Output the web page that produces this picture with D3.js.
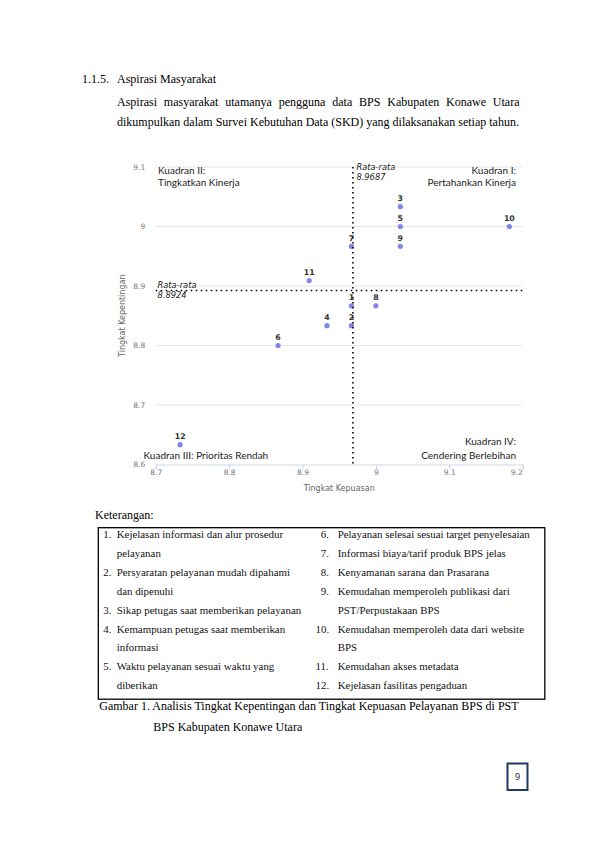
<!DOCTYPE html>
<html><head><meta charset="utf-8">
<script src="https://cdn.jsdelivr.net/npm/d3@7"></script>
<style>
html,body{margin:0;padding:0;background:#fff;}
svg{display:block;}
</style></head>
<body>
<script>
// ---- DATA ----
const ids = ["1","2","3","4","5","6","7","8","9","10","11","12"];
const kepuasan    = [8.9667, 8.9667, 9.0333, 8.9333, 9.0333, 8.8667, 8.9667, 9.0000, 9.0333, 9.1818, 8.9091, 8.7333];
const kepentingan = [8.8667, 8.8333, 9.0333, 8.8333, 9.0000, 8.8000, 8.9667, 8.8667, 8.9667, 9.0000, 8.9091, 8.6333];
const xTicks = [8.7, 8.8, 8.9, 9, 9.1, 9.2];
const yTicks = [8.6, 8.7, 8.8, 8.9, 9, 9.1];
const meanX = 8.9687;
const meanY = 8.8924;
const keteranganLeft = [
  ["1.", "Kejelasan informasi dan alur prosedur"], ["", "pelayanan"],
  ["2.", "Persyaratan pelayanan mudah dipahami"], ["", "dan dipenuhi"],
  ["3.", "Sikap petugas saat memberikan pelayanan"],
  ["4.", "Kemampuan petugas saat memberikan"], ["", "informasi"],
  ["5.", "Waktu pelayanan sesuai waktu yang"], ["", "diberikan"]
];
const keteranganRight = [
  ["6.", "Pelayanan selesai sesuai target penyelesaian"],
  ["7.", "Informasi biaya/tarif produk BPS jelas"],
  ["8.", "Kenyamanan sarana dan Prasarana"],
  ["9.", "Kemudahan memperoleh publikasi dari"], ["", "PST/Perpustakaan BPS"],
  ["10.", "Kemudahan memperoleh data dari website"], ["", "BPS"],
  ["11.", "Kemudahan akses metadata"],
  ["12.", "Kejelasan fasilitas pengaduan"]
];

const W = 595, H = 842;
const svg = d3.select("body").append("svg").attr("width", W).attr("height", H);
const serif = "'Liberation Serif','Times New Roman',serif";
const sans = "'DejaVu Sans',Verdana,sans-serif";
const lato = "Lato,'Open Sans',sans-serif";

// ---- Heading & body text ----
svg.append("text").attr("x", 82).attr("y", 83).attr("font-family", serif).attr("font-size", 12).text("1.1.5.");
svg.append("text").attr("x", 117).attr("y", 83).attr("font-family", serif).attr("font-size", 12).text("Aspirasi Masyarakat");

function justifyLine(str, x0, x1, y) {
  const words = str.split(" ");
  const g = svg.append("g").attr("font-family", serif).attr("font-size", 12);
  const nodes = words.map(w => g.append("text").attr("y", y).text(w));
  const widths = nodes.map(n => n.node().getComputedTextLength());
  const total = d3.sum(widths);
  const gap = (x1 - x0 - total) / (words.length - 1);
  let x = x0;
  nodes.forEach((n, i) => { n.attr("x", x); x += widths[i] + gap; });
}
justifyLine("Aspirasi masyarakat utamanya pengguna data BPS Kabupaten Konawe Utara", 117, 519.5, 105.5);
svg.append("text").attr("x", 117).attr("y", 125.5).attr("font-family", serif).attr("font-size", 12)
  .text("dikumpulkan dalam Survei Kebutuhan Data (SKD) yang dilaksanakan setiap tahun.");

// ---- Chart ----
const x = d3.scaleLinear().domain([8.7, 9.2]).range([155.7, 522.7]);
const y = d3.scaleLinear().domain([8.6, 9.1]).range([464.5, 167]);
const chart = svg.append("g");

// grid
chart.append("g").selectAll("line").data(yTicks.filter(t => t !== 8.6)).join("line")
  .attr("x1", x.range()[0]).attr("x2", x.range()[1])
  .attr("y1", d => y(d)).attr("y2", d => y(d))
  .attr("stroke", "#e6e6e6").attr("stroke-width", 1);

// x axis
const xAxis = chart.append("g").attr("transform", `translate(0,${y(8.6)})`)
  .call(d3.axisBottom(x).tickValues(xTicks).tickSize(5).tickFormat(d3.format("")));
xAxis.select(".domain").attr("stroke", "#ccd6eb");
xAxis.selectAll(".tick line").attr("stroke", "#ccd6eb");
xAxis.selectAll(".tick text").attr("fill", "#777").attr("font-family", sans).attr("font-size", 7.5).attr("dy", "0.3em")
  .attr("text-anchor", d => d === 9.2 ? "end" : "middle").attr("dx", d => d === 9.2 ? -0.5 : 0);

// y axis labels
const yAxis = chart.append("g").attr("transform", `translate(${x.range()[0]},0)`)
  .call(d3.axisLeft(y).tickValues(yTicks).tickSize(0).tickPadding(10.5).tickFormat(d3.format("")));
yAxis.select(".domain").remove();
yAxis.selectAll(".tick text").attr("fill", "#777").attr("font-family", sans).attr("font-size", 7.5);

// axis titles
chart.append("text").attr("x", (x.range()[0] + x.range()[1]) / 2).attr("y", 491).attr("text-anchor", "middle")
  .attr("font-family", sans).attr("font-size", 8).attr("fill", "#666").text("Tingkat Kepuasan");
chart.append("text").attr("transform", `translate(125,${(y.range()[0] + y.range()[1]) / 2}) rotate(-90)`)
  .attr("text-anchor", "middle").attr("font-family", sans).attr("font-size", 8).attr("fill", "#666")
  .text("Tingkat Kepentingan");

// quadrant labels
const q = chart.append("g").attr("font-family", lato).attr("font-size", 10).attr("fill", "#222");
q.append("text").attr("x", 158).attr("y", 173.5).text("Kuadran II:");
q.append("text").attr("x", 158).attr("y", 185.5).text("Tingkatkan Kinerja");
q.append("text").attr("x", 516).attr("y", 173.5).attr("text-anchor", "end").text("Kuadran I:");
q.append("text").attr("x", 516).attr("y", 185.5).attr("text-anchor", "end").text("Pertahankan Kinerja");
q.append("text").attr("x", 143.5).attr("y", 458.5).text("Kuadran III: Prioritas Rendah");
q.append("text").attr("x", 516).attr("y", 444.5).attr("text-anchor", "end").text("Kuadran IV:");
q.append("text").attr("x", 516).attr("y", 458.5).attr("text-anchor", "end").text("Cendering Berlebihan");

// points
const pts = ids.map((id, i) => ({ id, kx: kepuasan[i], ky: kepentingan[i] }));
chart.append("g").selectAll("circle").data(pts).join("circle")
  .attr("cx", d => x(d.kx)).attr("cy", d => y(d.ky)).attr("r", 2.6).attr("fill", "#8085e9");
chart.append("g").selectAll("text").data(pts).join("text")
  .attr("x", d => x(d.kx)).attr("y", d => y(d.ky) - 5.5).attr("text-anchor", "middle")
  .attr("font-family", sans).attr("font-weight", "bold").attr("font-size", 7.8).attr("fill", "#333")
  .text(d => d.id);

// mean lines
chart.append("line").attr("x1", x(meanX)).attr("x2", x(meanX)).attr("y1", y.range()[1]).attr("y2", y.range()[0])
  .attr("stroke", "#000").attr("stroke-width", 1.6).attr("stroke-dasharray", "1.6,3.4");
chart.append("line").attr("x1", x.range()[0]).attr("x2", x.range()[1]).attr("y1", y(meanY)).attr("y2", y(meanY))
  .attr("stroke", "#000").attr("stroke-width", 1.6).attr("stroke-dasharray", "1.6,3.4");
const ml = chart.append("g").attr("font-family", sans).attr("font-style", "italic").attr("font-size", 8.3).attr("fill", "#222");
ml.append("text").attr("x", x(meanX) + 3.5).attr("y", 169.5).text("Rata-rata");
ml.append("text").attr("x", x(meanX) + 3.5).attr("y", 179.5).text(String(meanX));
ml.append("text").attr("x", 157.5).attr("y", 288).text("Rata-rata");
ml.append("text").attr("x", 157.5).attr("y", 298).text(String(meanY));

// ---- Keterangan ----
svg.append("text").attr("x", 95).attr("y", 519).attr("font-family", serif).attr("font-size", 12).text("Keterangan:");
svg.append("rect").attr("x", 98.3).attr("y", 527.7).attr("width", 446.5).attr("height", 171.5)
  .attr("fill", "none").attr("stroke", "#000").attr("stroke-width", 1.3);
const rowY = i => 538 + i * 18.9;
const kl = svg.append("g").attr("font-family", serif).attr("font-size", 10.9).attr("fill", "#111");
keteranganLeft.forEach((r, i) => {
  if (r[0]) kl.append("text").attr("x", 103.3).attr("y", rowY(i)).text(r[0]);
  kl.append("text").attr("x", 116.7).attr("y", rowY(i)).text(r[1]);
});
keteranganRight.forEach((r, i) => {
  if (r[0]) kl.append("text").attr("x", r[0].length > 2 ? 315.5 : 320.8).attr("y", rowY(i)).text(r[0]);
  kl.append("text").attr("x", 337.7).attr("y", rowY(i)).text(r[1]);
});

// caption
svg.append("text").attr("x", 99.3).attr("y", 709.5).attr("font-family", serif).attr("font-size", 12)
  .text("Gambar 1. Analisis Tingkat Kepentingan dan Tingkat Kepuasan Pelayanan BPS di PST");
svg.append("text").attr("x", 153.3).attr("y", 730.5).attr("font-family", serif).attr("font-size", 12)
  .text("BPS Kabupaten Konawe Utara");

// page number
svg.append("rect").attr("x", 507.5).attr("y", 763.5).attr("width", 20).attr("height", 26.5)
  .attr("fill", "none").attr("stroke", "#1f3864").attr("stroke-width", 2);
svg.append("text").attr("x", 517.5).attr("y", 779.5).attr("text-anchor", "middle").attr("font-family", "'Noto Sans',sans-serif")
  .attr("font-size", 9).attr("fill", "#222").text("9");
</script>
</body></html>
